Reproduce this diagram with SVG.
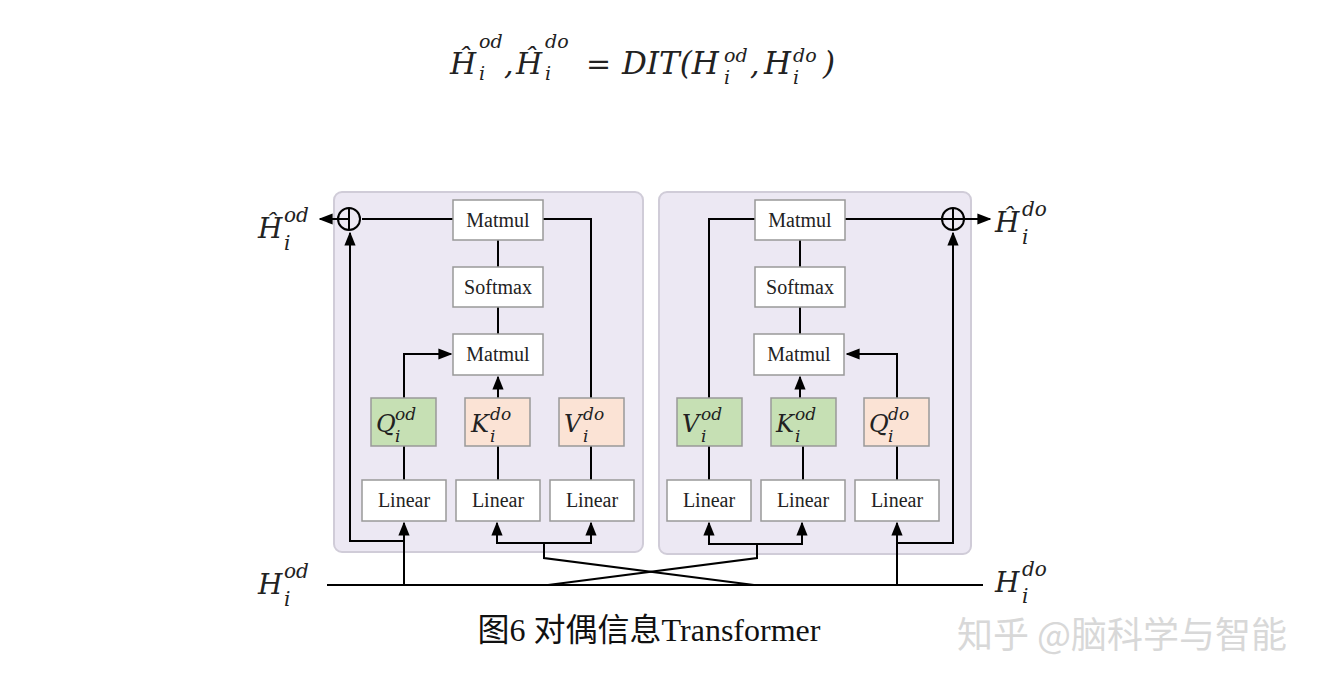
<svg xmlns="http://www.w3.org/2000/svg" width="1339" height="675" viewBox="0 0 1339 675">
<defs>
<marker id="a" viewBox="0 0 10 10" refX="9" refY="5" markerWidth="7" markerHeight="7" orient="auto-start-reverse"><path d="M0,1 L10,5 L0,9 z" fill="#000"/></marker>
<style>
.p{fill:#ece8f3;stroke:#d0ccd8;stroke-width:2}
.b{fill:#fff;stroke:#999;stroke-width:1.5}
.g{fill:#c6e0b4;stroke:#999;stroke-width:1.5}
.o{fill:#fbe3d5;stroke:#999;stroke-width:1.5}
.t{font-family:"Liberation Serif",serif;font-size:20px;text-anchor:middle;fill:#222}
.m{font-family:"DejaVu Serif","Liberation Serif",serif;font-style:italic;fill:#222}
.s{font-size:17px}
.S{font-size:20px}
.f{font-size:19px}
.l{fill:none;stroke:#000;stroke-width:2}
</style>
</defs>
<rect width="1339" height="675" fill="#fff"/>
<g id="formula" class="m">
<text x="450" y="74" font-size="30">Ĥ</text><text x="479" y="48" class="f">od</text><text x="479" y="80" class="f">i</text><text x="504" y="74" font-size="30">,</text>
<text x="516" y="74" font-size="30">Ĥ</text><text x="545" y="48" class="f">do</text><text x="545" y="80" class="f">i</text>
<text x="586" y="74" font-size="30" font-style="normal">=</text>
<text x="622" y="74" font-size="31">DIT(H</text><text x="724" y="62" class="f">od</text><text x="724" y="84" class="f">i</text><text x="750" y="74" font-size="30">,</text>
<text x="764" y="74" font-size="31">H</text><text x="793" y="62" class="f">do</text><text x="793" y="84" class="f">i</text><text x="823" y="74" font-size="31">)</text>
</g>
<rect class="p" x="334" y="192" width="309" height="360" rx="8"/>
<rect class="p" x="659" y="192" width="312" height="362" rx="8"/>
<g id="connectors">
<path class="l" d="M453,219 H362"/><circle cx="349" cy="219" r="11" class="l"/><path class="l" d="M338,219 H349 M349,208 V230"/>
<path class="l" d="M338,219 H320" marker-end="url(#a)"/>
<path class="l" d="M404,541 H350 V233" marker-end="url(#a)"/>
<path class="l" d="M404,585 V523" marker-end="url(#a)"/>
<path class="l" d="M327,585 H548 L754,585"/>
<path class="l" d="M404,398 V354 H451" marker-end="url(#a)"/>
<path class="l" d="M498,398 V377" marker-end="url(#a)"/>
<path class="l" d="M498,334 V307 M498,267 V240"/>
<path class="l" d="M591,398 V219 H543"/>
<path class="l" d="M404,446 V480 M498,446 V480 M591,446 V480"/>
<path class="l" d="M497,523 V543 H591 V523" marker-start="url(#a)" marker-end="url(#a)"/>
<path class="l" d="M544,543 V558 L754,585 H983"/>
<path class="l" d="M548,585 L757,558 V544"/>
<path class="l" d="M709,523 V544 H802 V523" marker-start="url(#a)" marker-end="url(#a)"/>
<path class="l" d="M897,585 V523" marker-end="url(#a)"/>
<path class="l" d="M897,543 H953 V233" marker-end="url(#a)"/>
<path class="l" d="M845,219 H942"/><circle cx="953" cy="219" r="11" class="l"/><path class="l" d="M942,219 H964 M953,208 V230"/>
<path class="l" d="M964,219 H990" marker-end="url(#a)"/>
<path class="l" d="M897,398 V354 H847" marker-end="url(#a)"/>
<path class="l" d="M800,398 V377" marker-end="url(#a)"/>
<path class="l" d="M800,334 V307 M800,267 V240"/>
<path class="l" d="M709,398 V219 H755"/>
<path class="l" d="M709,446 V480 M803,446 V480 M897,446 V480"/>
</g>
<g id="L-matmul1"><rect class="b" x="453" y="200" width="90" height="40"/><text class="t" x="498" y="227">Matmul</text></g>
<g id="L-softmax"><rect class="b" x="453" y="267" width="90" height="40"/><text class="t" x="498" y="294">Softmax</text></g>
<g id="L-matmul2"><rect class="b" x="453" y="334" width="90" height="41"/><text class="t" x="498" y="361">Matmul</text></g>
<g id="L-q" class="m"><rect class="g" x="371" y="398" width="65" height="48"/><text x="376" y="432" font-size="24">Q</text><text x="395" y="420" class="s">od</text><text x="395" y="442" class="s">i</text></g>
<g id="L-k" class="m"><rect class="o" x="465" y="398" width="65" height="48"/><text x="471" y="432" font-size="24">K</text><text x="490" y="420" class="s">do</text><text x="490" y="442" class="s">i</text></g>
<g id="L-v" class="m"><rect class="o" x="559" y="398" width="65" height="48"/><text x="564" y="432" font-size="24">V</text><text x="583" y="420" class="s">do</text><text x="583" y="442" class="s">i</text></g>
<g id="L-lin1"><rect class="b" x="362" y="480" width="84" height="41"/><text class="t" x="404" y="507">Linear</text></g>
<g id="L-lin2"><rect class="b" x="456" y="480" width="84" height="41"/><text class="t" x="498" y="507">Linear</text></g>
<g id="L-lin3"><rect class="b" x="550" y="480" width="84" height="41"/><text class="t" x="592" y="507">Linear</text></g>
<g id="R-matmul1"><rect class="b" x="755" y="200" width="90" height="40"/><text class="t" x="800" y="227">Matmul</text></g>
<g id="R-softmax"><rect class="b" x="755" y="267" width="90" height="40"/><text class="t" x="800" y="294">Softmax</text></g>
<g id="R-matmul2"><rect class="b" x="754" y="334" width="90" height="41"/><text class="t" x="799" y="361">Matmul</text></g>
<g id="R-v" class="m"><rect class="g" x="677" y="398" width="65" height="48"/><text x="682" y="432" font-size="24">V</text><text x="701" y="420" class="s">od</text><text x="701" y="442" class="s">i</text></g>
<g id="R-k" class="m"><rect class="g" x="771" y="398" width="65" height="48"/><text x="776" y="432" font-size="24">K</text><text x="795" y="420" class="s">od</text><text x="795" y="442" class="s">i</text></g>
<g id="R-q" class="m"><rect class="o" x="864" y="398" width="65" height="48"/><text x="869" y="432" font-size="24">Q</text><text x="888" y="420" class="s">do</text><text x="888" y="442" class="s">i</text></g>
<g id="R-lin1"><rect class="b" x="667" y="480" width="84" height="41"/><text class="t" x="709" y="507">Linear</text></g>
<g id="R-lin2"><rect class="b" x="761" y="480" width="84" height="41"/><text class="t" x="803" y="507">Linear</text></g>
<g id="R-lin3"><rect class="b" x="855" y="480" width="84" height="41"/><text class="t" x="897" y="507">Linear</text></g>
<g id="labels" class="m">
<text x="258" y="238" font-size="28">Ĥ</text><text x="284" y="222" class="S">od</text><text x="284" y="250" class="S">i</text>
<text x="995" y="232" font-size="28">Ĥ</text><text x="1022" y="216" class="S">do</text><text x="1022" y="244" class="S">i</text>
<text x="995" y="592" font-size="28">H</text><text x="1022" y="576" class="S">do</text><text x="1022" y="603" class="S">i</text>
<text x="258" y="594" font-size="28">H</text><text x="284" y="578" class="S">od</text><text x="284" y="606" class="S">i</text>
</g>
<text x="649" y="641" font-family="Liberation Serif,'Noto Sans CJK SC',serif" font-size="32" text-anchor="middle" fill="#111">图6 对偶信息Transformer</text>
<text x="1122" y="648" font-family="'Noto Sans CJK SC',sans-serif" font-size="36" text-anchor="middle" fill="#d8d8d8">知乎 @脑科学与智能</text>
</svg>
